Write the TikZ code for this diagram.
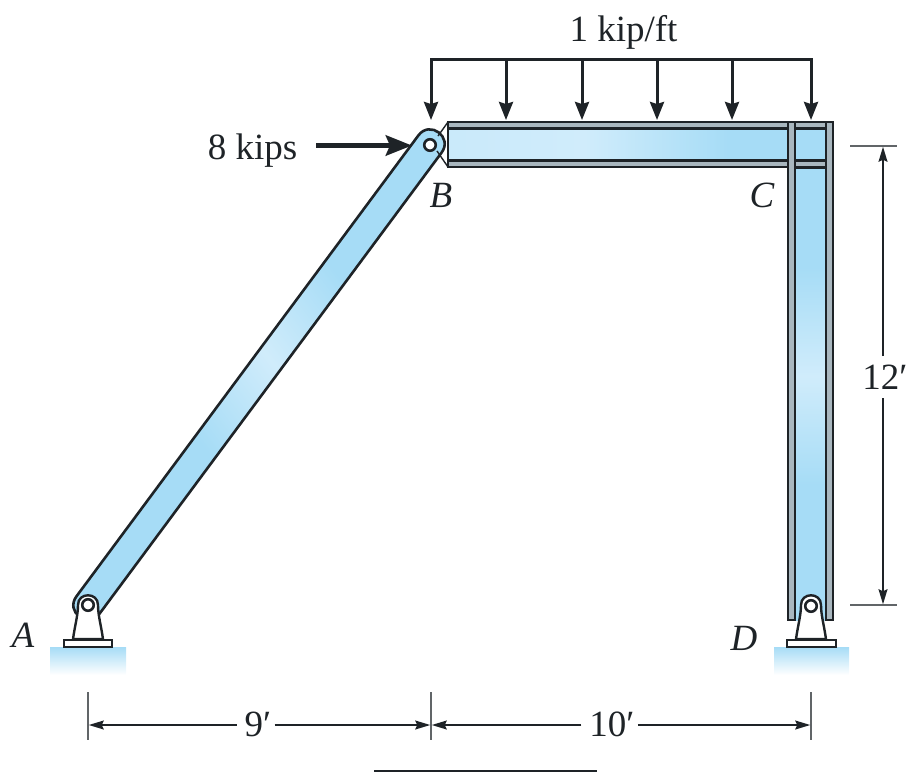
\documentclass[tikz,border=0pt]{standalone}
\usepackage{fontspec}
\setmainfont{Liberation Serif}
\usetikzlibrary{arrows.meta}
\definecolor{ink}{HTML}{1E2327}
\definecolor{steel}{HTML}{A9B7BF}
\definecolor{skyA}{HTML}{A6DCF6}
\definecolor{skyB}{HTML}{D0ECFB}
\pgfdeclarehorizontalshading{membershade}{100bp}{color(0bp)=(skyA); color(25bp)=(skyA); color(40bp)=(skyA); color(52bp)=(skyB); color(64bp)=(skyA); color(100bp)=(skyA)}
\pgfdeclarehorizontalshading{beamshade}{100bp}{color(0bp)=(skyB); color(25bp)=(skyB!85!skyA); color(45bp)=(skyB); color(66bp)=(skyA); color(100bp)=(skyA)}
\pgfdeclareverticalshading{groundshade}{100bp}{color(0bp)=(white); color(25bp)=(white); color(75bp)=(skyA); color(100bp)=(skyA)}
\tikzset{
  txt/.style={text=ink,font=\fontsize{37}{37}\selectfont,inner sep=0pt},
  lbl/.style={text=ink,font=\fontsize{37}{37}\selectfont\itshape,inner sep=0pt},
  load/.style={ink,line width=3pt,-{Stealth[length=18pt,width=14pt,inset=2pt]}},
  force/.style={ink,line width=5.5pt,-{Stealth[length=26pt,width=20pt,inset=4pt]}},
  dim/.style={ink,line width=1.3pt,-{Stealth[length=15pt,width=9pt,inset=2pt]}},
  ext/.style={ink!70,line width=1.8pt},
  flange/.style={fill=steel,draw=ink,line width=1.4pt},
  inner/.style={ink,line width=2.6pt},
  edge/.style={draw=ink,line width=2.6pt},
  lug/.style={fill=white,draw=ink,line width=2.4pt},
  plate/.style={fill=white,draw=ink,line width=2.4pt},
  pin/.style={circle,fill=white,draw=ink,line width=2.6pt,minimum size=11.5pt,inner sep=0pt},
  ground/.style={shading=groundshade}
}
\begin{document}
\begin{tikzpicture}[x=1pt,y=-1pt]
\useasboundingbox (0,0) rectangle (921,772);
% member AB
\path[shading=membershade,shading angle=37]
  (76.4,596.4) -- (418.4,135.4) .. controls (429.9,119.9) and (453.1,137.1) .. (441.6,152.6)
  -- (99.6,613.6) .. controls (88.1,629.1) and (64.9,611.9) .. (76.4,596.4) -- cycle;
\draw[edge] (99.6,613.6) .. controls (88.1,629.1) and (64.9,611.9) .. (76.4,596.4)
  -- (418.4,135.4) .. controls (429.9,119.9) and (453.1,137.1) .. (441.6,152.6) -- cycle;
% beam BC
\draw[ink,line width=1.4pt] (448,122) -- (438,136) (448,167) -- (437,151);
\path[shading=beamshade] (448,128) rectangle (790,161);
\draw[flange] (448,122) rectangle (790,128);
\draw[flange] (448,161) rectangle (790,167);
\draw[inner] (448,129) -- (790,129) (448,160.5) -- (790,160.5);
\draw[ink,line width=2.6pt] (448,122) -- (448,167);
% column CD
\path[shading=membershade,shading angle=90] (795,168) rectangle (826,620);
\fill[skyA] (795,128) rectangle (826,161);
\draw[flange] (795,122) rectangle (833,128);
\draw[flange] (795,161) rectangle (826,167);
\draw[inner] (795,129) -- (826,129) (795,160.5) -- (826,160.5) (795,168) -- (826,168);
\draw[flange] (788,122) rectangle (795,620);
\draw[flange] (826,122) rectangle (833,620);
\draw[inner] (795,122) -- (795,620) (826,122) -- (826,620);
\draw[ink,line width=2.2pt] (787,620) -- (795,620) (826,620) -- (834,620);
% grounds, plates, lugs, pins
\path[ground] (50,647) rectangle (126,675);
\path[ground] (774,647) rectangle (849,675);
\draw[lug] (73,639) .. controls (75,625) and (78,615) .. (78,605) .. controls (78,592) and (98,592) .. (98,605) .. controls (98,615) and (101,625) .. (103,639) -- cycle;
\draw[lug] (796,639) .. controls (798,625) and (801,615) .. (801,605) .. controls (801,592) and (821,592) .. (821,605) .. controls (821,615) and (824,625) .. (826,639) -- cycle;
\draw[plate] (64,640) rectangle (112,647);
\draw[plate] (787,640) rectangle (836,647);
\node[pin] (pinA) at (88,605) {};
\node[pin] (pinD) at (811,606) {};
\node[pin] (pinB) at (430,145) {};
% distributed load
\coordinate (q0) at (431,59); \coordinate (q5) at (811,59);
\draw[ink,line width=3pt,line cap=rect] (q0) -- (q5);
\foreach \x in {431,506,582,657,732,811}
  \draw[load] (\x,59) -- (\x,120);
\node[txt] (qlabel) at (623.5,32) {1 kip/ft};
% point load
\node[txt] (Pl) at (252.5,151) {8 kips};
\coordinate (Ps) at (316,145.5); \coordinate (Pe) at (412,145.5);
\draw[force] (Ps) -- (Pe);
% labels
\node[lbl] (A) at (23,635) {A};
\node[lbl] (B) at (441,195) {B};
\node[lbl] (C) at (762,195) {C};
\node[lbl] (D) at (744,638) {D};
% dimensions
\coordinate (e1) at (88,692); \coordinate (e2) at (431,692); \coordinate (e3) at (811,692);
\draw[ext] (e1) -- (88,740);
\draw[ext] (e2) -- (431,740);
\draw[ext] (e3) -- (811,740);
\node[txt] (d9) at (258,724) {9′};
\node[txt] (d10) at (612,724) {10′};
\draw[dim] (d9.west) ++(-8,1) -- (88.8,725);
\draw[dim] (d9.east) ++(3,1) -- (430.2,725);
\draw[dim] (d10.west) ++(-8,1) -- (431.8,725);
\draw[dim] (d10.east) ++(3,1) -- (810.2,725);
\draw[ext] (850,146) -- (897,146);
\draw[ext] (850,605) -- (897,605);
\node[txt] (d12) at (885,377) {12′};
\draw[dim] (883,356) -- (883,146.8);
\draw[dim] (883,398) -- (883,604.2);
% rule at foot
\draw[ink,line width=2.4pt] (374,771) -- (597,771);
\end{tikzpicture}
\end{document}
